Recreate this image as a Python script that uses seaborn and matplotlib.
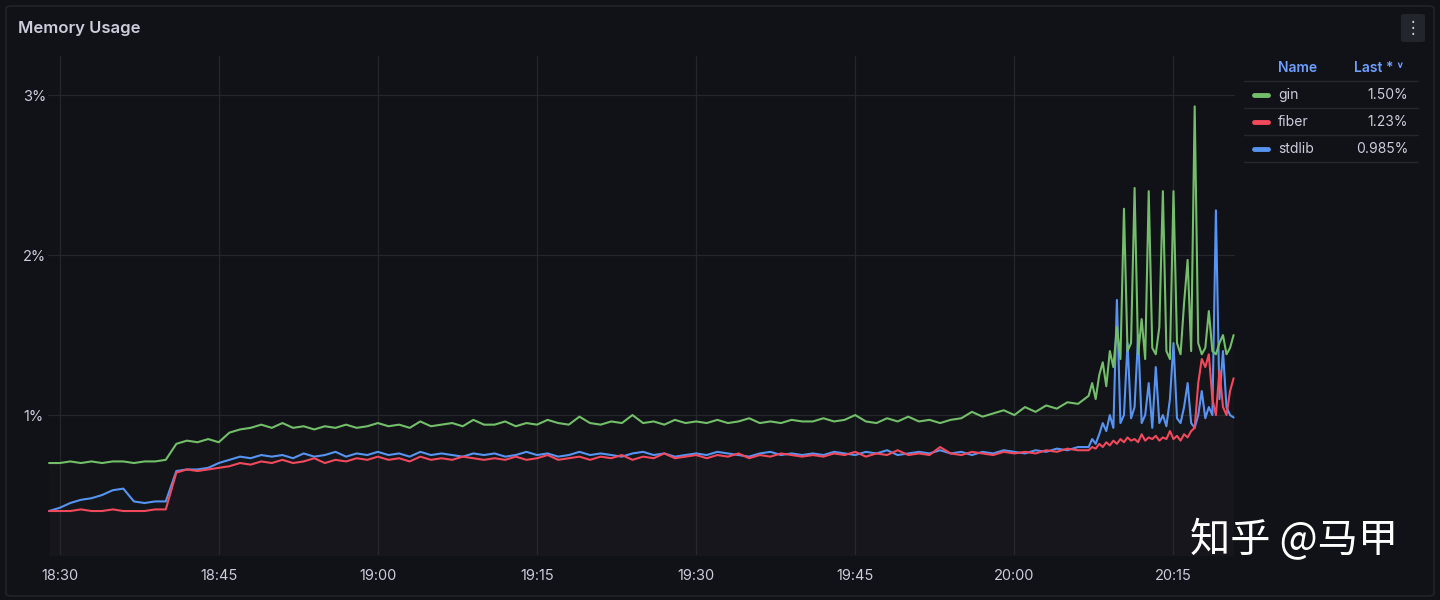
import numpy as np
import pandas as pd
import seaborn as sns
import matplotlib
matplotlib.use("Agg")
import matplotlib.pyplot as plt
from matplotlib.patches import FancyBboxPatch

# minutes after 18:00, one per minute 18:29..20:06, then every 20 s 20:07..20:20:40
t_minutes = list(range(29, 127)) + [127 + i / 3 for i in range(42)]

gin = [0.70,0.70,0.71,0.70,0.71,0.70,0.71,0.71,0.70,0.71,0.71,0.72,
       0.82,0.84,0.83,0.85,0.83,0.89,0.91,0.92,0.94,0.92,
       0.95,0.92,0.93,0.91,0.93,0.92,0.94,0.92,0.93,0.95,
       0.93,0.94,0.92,0.96,0.93,0.94,0.95,0.93,0.97,0.94,
       0.94,0.96,0.93,0.95,0.94,0.97,0.95,0.94,0.99,0.95,
       0.94,0.96,0.95,1.00,0.95,0.96,0.94,0.97,0.95,0.96,
       0.95,0.97,0.95,0.96,0.98,0.95,0.96,0.95,0.97,0.96,
       0.96,0.98,0.96,0.97,1.00,0.96,0.95,0.98,0.96,0.99,
       0.96,0.97,0.95,0.97,0.98,1.02,0.99,1.01,1.03,1.00,
       1.05,1.02,1.06,1.04,1.08,1.07,
       1.12,1.20,1.10,1.25,1.33,1.18,1.40,1.30,1.55,1.35,
       2.29,1.40,1.45,2.42,1.38,1.60,1.35,2.40,1.42,1.38,
       1.55,2.40,1.40,1.35,2.40,1.45,1.38,1.70,1.97,1.40,
       2.93,1.45,1.38,1.42,1.65,1.40,1.38,1.45,1.50,1.38,1.42,1.50]

fiber = [0.40,0.40,0.40,0.41,0.40,0.40,0.41,0.40,0.40,0.40,0.41,0.41,
         0.64,0.66,0.65,0.66,0.67,0.68,0.70,0.69,0.71,0.70,
         0.72,0.70,0.71,0.73,0.70,0.72,0.71,0.73,0.72,0.74,
         0.72,0.73,0.71,0.74,0.72,0.73,0.72,0.74,0.73,0.72,
         0.73,0.72,0.74,0.72,0.73,0.75,0.72,0.73,0.74,0.72,
         0.74,0.73,0.75,0.72,0.74,0.73,0.76,0.73,0.74,0.75,
         0.73,0.75,0.74,0.76,0.73,0.75,0.74,0.76,0.75,0.74,
         0.75,0.74,0.76,0.75,0.77,0.74,0.76,0.75,0.78,0.75,
         0.76,0.75,0.80,0.76,0.75,0.77,0.76,0.75,0.77,0.76,
         0.77,0.76,0.78,0.77,0.79,0.78,
         0.78,0.80,0.79,0.82,0.80,0.83,0.81,0.84,0.82,0.85,
         0.83,0.86,0.84,0.85,0.83,0.88,0.84,0.86,0.85,0.87,
         0.84,0.86,0.85,0.90,0.85,0.87,0.84,0.88,0.86,0.90,
         0.92,1.20,1.35,1.30,1.38,1.10,1.00,1.28,1.05,1.00,1.15,1.23]

stdlib = [0.40,0.42,0.45,0.47,0.48,0.50,0.53,0.54,0.46,0.45,0.46,0.46,
          0.65,0.66,0.66,0.67,0.70,0.72,0.74,0.73,0.75,0.74,
          0.75,0.73,0.76,0.74,0.75,0.77,0.74,0.76,0.75,0.77,
          0.75,0.76,0.74,0.77,0.75,0.76,0.75,0.74,0.76,0.75,
          0.76,0.74,0.75,0.77,0.75,0.76,0.74,0.75,0.77,0.75,
          0.76,0.75,0.74,0.76,0.77,0.75,0.76,0.74,0.75,0.76,
          0.75,0.77,0.76,0.75,0.74,0.76,0.77,0.75,0.76,0.75,
          0.76,0.75,0.77,0.76,0.75,0.77,0.76,0.78,0.75,0.76,
          0.77,0.76,0.78,0.76,0.77,0.75,0.77,0.76,0.78,0.77,
          0.76,0.78,0.77,0.79,0.78,0.80,
          0.80,0.85,0.82,0.88,0.95,0.90,1.00,0.92,1.72,0.95,
          1.00,1.45,0.98,1.05,1.50,0.95,1.00,1.20,0.92,1.30,
          0.95,1.00,0.93,1.10,1.45,0.98,0.95,1.05,1.20,0.95,
          0.92,1.00,1.15,0.98,1.05,1.00,2.28,1.10,1.40,1.05,1.00,0.985]

series_names = ["gin", "fiber", "stdlib"]
last_labels = ["1.50%", "1.23%", "0.985%"]
tick_minutes = [30, 45, 60, 75, 90, 105, 120, 135]
tick_labels = ["18:30", "18:45", "19:00", "19:15", "19:30", "19:45", "20:00", "20:15"]
colors = {"gin": "#73BF69", "fiber": "#F2495C", "stdlib": "#5794F2"}

BG = "#111217"
sns.set_theme(style="dark")
plt.rcParams['font.family'] = ['Inter', 'DejaVu Sans']

fig = plt.figure(figsize=(14.4, 6), dpi=100, facecolor=BG)
fig.patches.append(FancyBboxPatch((6/1440, 4/600), 1428/1440, 590/600,
                                  boxstyle="round,pad=0,rounding_size=0.004",
                                  transform=fig.transFigure, fc=BG, ec="#25272d", lw=1,
                                  zorder=-5))
ax = fig.add_axes([48/1440, 45/600, 1187/1440, 499/600], facecolor=BG)
ax.patch.set_alpha(0)

df = pd.DataFrame({"t": t_minutes * 3,
                   "v": gin + fiber + stdlib,
                   "s": ["gin"] * len(gin) + ["fiber"] * len(fiber) + ["stdlib"] * len(stdlib)})

for name, vals in [("stdlib", stdlib), ("fiber", fiber), ("gin", gin)]:
    ax.fill_between(t_minutes, 0, vals, color=colors[name], alpha=0.015, lw=0)
sns.lineplot(data=df, x="t", y="v", hue="s", palette=colors, ax=ax,
             lw=1.5, legend=False, hue_order=["stdlib", "fiber", "gin"])

ax.set_xlim(28.9, 140.8)
ax.set_ylim(0.125, 3.245)
ax.set_xticks(tick_minutes)
ax.set_xticklabels(tick_labels)
ax.set_yticks([1, 2, 3])
ax.set_yticklabels(["1%", "2%", "3%"])
ax.set_xlabel(""); ax.set_ylabel("")
ax.grid(True, color="#24262c", lw=0.9)
for s in ax.spines.values():
    s.set_visible(False)
ax.tick_params(colors="#ccccdc", labelsize=10.5, length=0)
ax.tick_params(axis="x", pad=10)
for lab in ax.get_yticklabels():
    lab.set_horizontalalignment("left")
ax.tick_params(axis="y", pad=18)

fig.text(18/1440, 1 - 28/600, "Memory Usage", color="#ccccdc", fontsize=12,
         fontweight="semibold", va="center")
fig.patches.append(FancyBboxPatch((1401/1440, 1 - 42/600), 24/1440, 28/600,
                                  boxstyle="round,pad=0,rounding_size=0.003",
                                  transform=fig.transFigure, fc="#22252b", ec="none"))
fig.text(1413/1440, 1 - 28/600, "⋮", color="#ccccdc", fontsize=12, ha="center", va="center",
         family="DejaVu Sans")

fig.text(1278/1440, 1 - 68/600, "Name", color="#6e9fff", fontsize=10, va="center", fontweight="semibold")
fig.text(1403/1440, 1 - 68/600, "Last * ˅", color="#6e9fff", fontsize=10, va="center", ha="right",
         fontweight="semibold")
rows_y = [95, 122, 149]
for i, (n, lv) in enumerate(zip(series_names, last_labels)):
    y = 1 - rows_y[i] / 600
    fig.add_artist(plt.Line2D([1254/1440, 1268/1440], [y, y], color=colors[n], lw=3.5,
                              solid_capstyle="round", transform=fig.transFigure))
    fig.text(1278/1440, y, n, color="#ccccdc", fontsize=10, va="center")
    fig.text(1408/1440, y, lv, color="#ccccdc", fontsize=10, va="center", ha="right")
for yy in [81, 108, 135, 162]:
    fig.add_artist(plt.Line2D([1244/1440, 1418/1440], [1 - yy/600, 1 - yy/600], color="#25272d",
                              lw=1, transform=fig.transFigure))

fig.text(1398/1440, 1 - 540/600, "知乎 @马甲", color="white", fontsize=29, ha="right", va="center",
         family=["Noto Sans CJK SC", "DejaVu Sans"])

fig.savefig("out.png", dpi=100, facecolor=BG)
